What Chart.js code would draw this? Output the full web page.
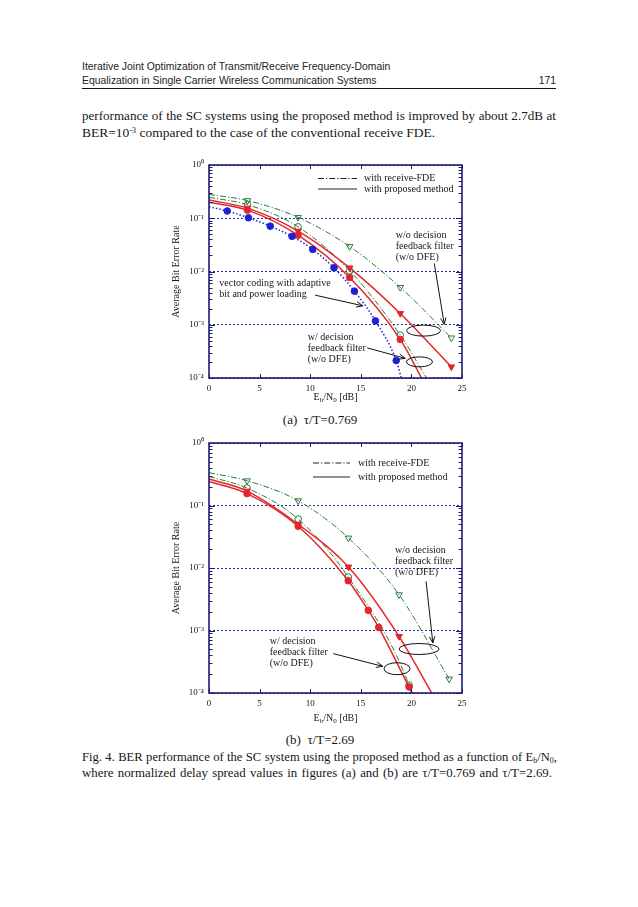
<!DOCTYPE html>
<html><head><meta charset="utf-8">
<script src="https://cdn.jsdelivr.net/npm/chart.js@4.4.1/dist/chart.umd.min.js"></script>
<style>
html,body{margin:0;padding:0;background:#fff;}
body{width:638px;height:907px;position:relative;overflow:hidden;font-family:"Liberation Serif","Times New Roman",serif;color:#161616;}
.abs{position:absolute;white-space:nowrap;}
.hdr{font-family:"Liberation Sans",Arial,sans-serif;font-size:10.4px;line-height:14px;color:#222;}
.txt{font-size:13.5px;line-height:17px;}
.cap{font-size:13px;line-height:16px;}
.jl{text-align:justify;text-align-last:justify;}
sup{font-size:8px;line-height:0;vertical-align:4px;}
sub{font-size:8px;line-height:0;vertical-align:-2px;}
canvas{position:absolute;}
</style></head><body>
<div class="abs hdr" style="left:82px;top:60px;">Iterative Joint Optimization of Transmit/Receive Frequency-Domain</div>
<div class="abs hdr" style="left:82px;top:74px;">Equalization in Single Carrier Wireless Communication Systems</div>
<div class="abs hdr" style="left:500px;top:74px;width:56px;text-align:right;">171</div>
<div class="abs" style="left:82px;top:88px;width:474px;height:1px;background:#111;"></div>
<div class="abs txt jl fit" style="left:82px;top:107px;width:474px;"><span>performance of the SC systems using the proposed method is improved by about 2.7dB at</span></div>
<div class="abs txt" style="left:82px;top:124px;">BER=10<sup>-3</sup> compared to the case of the conventional receive FDE.</div>

<canvas id="ca" width="330" height="262" style="left:150px;top:150px"></canvas>
<div class="abs cap" style="left:250px;top:412px;width:140px;text-align:center;">(a)&nbsp; τ/T=0.769</div>
<canvas id="cb" width="330" height="300" style="left:150px;top:430px"></canvas>
<div class="abs cap" style="left:250px;top:732px;width:140px;text-align:center;">(b)&nbsp; τ/T=2.69</div>
<div class="abs cap jl fit" style="left:82px;top:749px;width:475px;"><span>Fig. 4. BER performance of the SC system using the proposed method as a function of E<sub>b</sub>/N<sub>0</sub>,</span></div>
<div class="abs cap jl fit" style="left:82px;top:765px;width:470px;"><span>where normalized delay spread values in figures (a) and (b) are τ/T=0.769 and τ/T=2.69.</span></div>

<script>
// shrink justified lines whose natural width exceeds their box
document.querySelectorAll('.fit').forEach(d => {
  const W = parseFloat(d.style.width);
  const sp = d.firstElementChild;
  const fs = parseFloat(getComputedStyle(d).fontSize);
  const w = sp.getBoundingClientRect().width;
  if (w > W - 2) d.style.fontSize = (fs * (W - 4) / w).toFixed(2) + 'px';
});

// ---------------- axis ticks ----------------
const xTickValues = [0, 5, 10, 15, 20, 25];
const xTickLabels = ['0', '5', '10', '15', '20', '25'];
const yTickValues = [1e-4, 1e-3, 1e-2, 1e-1, 1];
const yTickLabels = ['10⁻⁴', '10⁻³', '10⁻²', '10⁻¹', '10⁰'];

// ---------------- (a) tau/T = 0.769 ----------------
const aMarkX      = [3.8, 8.8, 13.9, 18.9, 23.95];
const aFdeNoDfe   = [0.215, 0.104, 0.0295, 0.00502, 0.000567];   // green open triangles
const aFdeDfe     = [0.18, 0.069, 0.0103, 0.000638];             // green open circles
const aPropNoDfe  = [0.155, 0.0575, 0.0117, 0.00163, 0.000162];  // red filled triangles
const aPropDfe    = [0.142, 0.048, 0.0077, 0.00053];             // red filled circles
const aVcX        = [1.8, 3.9, 6.05, 8.2, 10.25, 12.35, 14.37, 16.45, 18.5];
const aVc         = [0.137, 0.102, 0.071, 0.0457, 0.026, 0.0117, 0.00428, 0.00118, 0.000213]; // blue
// curve value at Eb/N0 = 0 dB, order: fdeNoDfe, fdeDfe, propNoDfe, propDfe, vc
const aCurveStart = [0.281, 0.247, 0.22, 0.2, 0.164];
// Eb/N0 where curve leaves the plot at BER = 1e-4 (null = ends at last marker)
const aCurveEndX  = [null, 21.5, null, 21.0, 19.0];

// ---------------- (b) tau/T = 2.69 ----------------
const bMarkX      = [3.76, 8.81, 13.78, 18.78, 23.73];
const bFdeNoDfe   = [0.249, 0.119, 0.0302, 0.00374, 0.000168];
const bFdeDfeX    = [3.76, 8.81, 13.76, 19.77];
const bFdeDfe     = [0.19, 0.0608, 0.00718, 0.000134];
const bPropNoDfe  = [0.17, 0.05, 0.0104, 0.000805];
const bPropDfeX   = [3.76, 8.81, 13.76, 15.74, 16.77, 19.77];
const bPropDfe    = [0.155, 0.0465, 0.00626, 0.0021, 0.00112, 0.000125];
const bCurveStart = [0.335, 0.292, 0.265, 0.243];
const bCurveEndX  = [null, 20.0, 22.0, 20.1];

// ---------------- styles ----------------
const RED = '#e2262b', GREEN = '#2e7a3e', BLUE = '#2020d4', NAVY = '#1c1c72', GRID = '#2b2b96';
const SERIF = '"Liberation Serif","Times New Roman",serif';
const DASHDOT = [6, 2, 1.2, 2];

function pts(xs, ys) { return ys.map((y, i) => ({x: xs[i], y})); }
function curve(xs, ys, startY, endX) {
  const p = [{x: 0, y: startY}].concat(pts(xs, ys));
  if (endX != null) p.push({x: endX, y: 1e-4});
  return p;
}
function lineDs(data, color, dash, width) {
  return {data, borderColor: color, borderDash: dash, borderWidth: width, pointRadius: 0,
          fill: false, cubicInterpolationMode: 'monotone', showLine: true};
}
function markDs(data, color, style, filled, rot) {
  return {data, showLine: false, pointStyle: style, pointRadius: style === 'triangle' ? 3.8 : 3.3,
          pointRotation: rot || 0, borderColor: color, borderWidth: 1,
          pointBackgroundColor: filled ? color : 'rgba(255,255,255,0)', backgroundColor: color};
}

const framePlugin = {
  id: 'frame',
  afterDatasetsDraw(chart, args, o) {
    const {ctx, chartArea: a, scales: {x, y}} = chart;
    const L = (x1, y1, x2, y2) => { ctx.beginPath(); ctx.moveTo(x1, y1); ctx.lineTo(x2, y2); ctx.stroke(); };
    ctx.save();
    ctx.strokeStyle = NAVY; ctx.lineWidth = 1;
    for (let e = -4; e < 0; e++) for (let m = 1; m < 10; m++) {
      const py = Math.round(y.getPixelForValue(m * Math.pow(10, e))) + 0.5;
      const len = m === 1 ? 6 : 3.5;
      L(a.left, py, a.left + len, py); L(a.right, py, a.right - len, py);
    }
    xTickValues.forEach(v => {
      const px = Math.round(x.getPixelForValue(v)) + 0.5;
      L(px, a.bottom, px, a.bottom - 4); L(px, a.top, px, a.top + 4);
    });
    ctx.lineWidth = 1.6;
    ctx.strokeRect(a.left, a.top, a.right - a.left, a.bottom - a.top);

    // axis titles
    ctx.fillStyle = '#161616';
    ctx.font = '10px ' + SERIF;
    ctx.textBaseline = 'middle';
    ctx.save();
    ctx.translate(o.yTitleX, (a.top + a.bottom) / 2);
    ctx.rotate(-Math.PI / 2);
    ctx.textAlign = 'center';
    ctx.fillText('Average Bit Error Rate', 0, 0);
    ctx.restore();
    const parts = [['E', 10, 0], ['b', 7, 3], ['/N', 10, 0], ['0', 7, 3], [' [dB]', 10, 0]];
    let w = 0;
    parts.forEach(p => { ctx.font = p[1] + 'px ' + SERIF; w += ctx.measureText(p[0]).width; });
    let cx = (a.left + a.right) / 2 - w / 2;
    ctx.textAlign = 'left';
    parts.forEach(p => { ctx.font = p[1] + 'px ' + SERIF; ctx.fillText(p[0], cx, o.xTitleY + p[2]); cx += ctx.measureText(p[0]).width; });

    // legend
    ctx.strokeStyle = '#222'; ctx.lineWidth = 1.2;
    const lg = o.legend;
    ctx.setLineDash(DASHDOT);
    L(a.left + lg.x0, a.top + lg.y1, a.left + lg.x1, a.top + lg.y1);
    ctx.setLineDash([]);
    L(a.left + lg.x0, a.top + lg.y2, a.left + lg.x1, a.top + lg.y2);
    ctx.font = '10px ' + SERIF;
    ctx.fillText('with receive-FDE', a.left + lg.tx, a.top + lg.y1);
    ctx.fillText('with proposed method', a.left + lg.tx, a.top + lg.y2);

    // annotations (anchored in data coordinates)
    ctx.lineWidth = 1; ctx.strokeStyle = '#111';
    (o.texts || []).forEach(t => {
      const px = x.getPixelForValue(t.x), py = y.getPixelForValue(t.y);
      t.lines.forEach((s, i) => ctx.fillText(s, px, py + i * 11));
    });
    (o.arrows || []).forEach(r => {
      const x1 = x.getPixelForValue(r.from[0]), y1 = y.getPixelForValue(r.from[1]);
      const x2 = x.getPixelForValue(r.to[0]), y2 = y.getPixelForValue(r.to[1]);
      L(x1, y1, x2, y2);
      const ang = Math.atan2(y2 - y1, x2 - x1);
      [0.4, -0.4].forEach(d => L(x2, y2, x2 - 7 * Math.cos(ang + d), y2 - 7 * Math.sin(ang + d)));
    });
    (o.ellipses || []).forEach(el => {
      ctx.beginPath();
      ctx.ellipse(x.getPixelForValue(el.x), y.getPixelForValue(el.y), el.rx, el.ry, 0, 0, Math.PI * 2);
      ctx.stroke();
    });
    ctx.restore();
  }
};

function makeChart(id, datasets, pad, xH, frameOpts) {
  return new Chart(document.getElementById(id), {
    type: 'line',
    data: {datasets},
    options: {
      responsive: false, animation: false, devicePixelRatio: 1,
      layout: {padding: pad},
      plugins: {legend: {display: false}, tooltip: {enabled: false}, frame: frameOpts},
      scales: {
        x: {type: 'linear', min: 0, max: 25,
            afterBuildTicks: s => { s.ticks = xTickValues.map(v => ({value: v})); },
            afterFit: s => { s.height = xH; },
            ticks: {padding: 5, color: '#161616', font: {family: SERIF, size: 9},
                    callback: (v) => xTickLabels[xTickValues.indexOf(v)]},
            grid: {display: false, drawTicks: false}, border: {display: false}},
        y: {type: 'logarithmic', min: 1e-4, max: 1,
            afterBuildTicks: s => { s.ticks = yTickValues.map(v => ({value: v})); },
            afterFit: s => { s.width = 59; },
            ticks: {padding: 5, autoSkip: false, color: '#161616', font: {family: SERIF, size: 9},
                    callback: (v) => yTickLabels[yTickValues.findIndex(t => Math.abs(Math.log10(t) - Math.log10(v)) < 1e-6)]},
            grid: {display: true, drawTicks: false, color: GRID, lineWidth: 1},
            border: {display: false, dash: [2, 2]}}
      }
    },
    plugins: [framePlugin]
  });
}

// ---- chart (a)
makeChart('ca', [
  markDs(pts(aVcX, aVc), BLUE, 'circle', true),
  markDs(pts(aMarkX, aPropDfe), RED, 'circle', true),
  markDs(pts(aMarkX, aPropNoDfe), RED, 'triangle', true, 180),
  markDs(pts(aMarkX, aFdeDfe), GREEN, 'circle', false),
  markDs(pts(aMarkX, aFdeNoDfe), GREEN, 'triangle', false, 180),
  lineDs(curve(aVcX, aVc, aCurveStart[4], aCurveEndX[4]), BLUE, [1.5, 2], 1.5),
  lineDs(curve(aMarkX, aPropDfe, aCurveStart[3], aCurveEndX[3]), RED, [], 1.5),
  lineDs(curve(aMarkX, aPropNoDfe, aCurveStart[2], aCurveEndX[2]), RED, [], 1.5),
  lineDs(curve(aMarkX, aFdeDfe, aCurveStart[1], aCurveEndX[1]), GREEN, DASHDOT, 1),
  lineDs(curve(aMarkX, aFdeNoDfe, aCurveStart[0], aCurveEndX[0]), GREEN, DASHDOT, 1)
], {left: 0, right: 18, top: 15, bottom: 0}, 34, {
  yTitleX: 26, xTitleY: 247,
  legend: {x0: 109, x1: 148, tx: 155, y1: 13.5, y2: 24},
  texts: [
    {x: 18.45, y: 0.0468, lines: ['w/o decision', 'feedback filter', '(w/o DFE)']},
    {x: 1.02, y: 0.00597, lines: ['vector coding with adaptive', 'bit and power loading']},
    {x: 9.76, y: 0.000568, lines: ['w/ decision', 'feedback filter', '(w/o DFE)']}
  ],
  arrows: [
    {from: [22.26, 0.01419], to: [23.25, 0.00102]},
    {from: [10.48, 0.0036], to: [15.2, 0.00227]},
    {from: [15.63, 0.000368], to: [19.39, 0.000234]}
  ],
  ellipses: [
    {x: 21.2, y: 0.000776, rx: 17, ry: 5.5},
    {x: 20.8, y: 0.000201, rx: 13, ry: 5}
  ]
});

// ---- chart (b)
makeChart('cb', [
  markDs(pts(bPropDfeX, bPropDfe), RED, 'circle', true),
  markDs(pts(bMarkX, bPropNoDfe), RED, 'triangle', true, 180),
  markDs(pts(bFdeDfeX, bFdeDfe), GREEN, 'circle', false),
  markDs(pts(bMarkX, bFdeNoDfe), GREEN, 'triangle', false, 180),
  lineDs(curve(bPropDfeX, bPropDfe, bCurveStart[3], bCurveEndX[3]), RED, [], 1.5),
  lineDs(curve(bMarkX, bPropNoDfe, bCurveStart[2], bCurveEndX[2]), RED, [], 1.5),
  lineDs(curve(bFdeDfeX, bFdeDfe, bCurveStart[1], bCurveEndX[1]), GREEN, DASHDOT, 1),
  lineDs(curve(bMarkX, bFdeNoDfe, bCurveStart[0], bCurveEndX[0]), GREEN, DASHDOT, 1)
], {left: 0, right: 18, top: 13, bottom: 0}, 37, {
  yTitleX: 26, xTitleY: 288,
  legend: {x0: 104, x1: 141, tx: 149, y1: 20, y2: 34},
  texts: [
    {x: 18.38, y: 0.0189, lines: ['w/o decision', 'feedback filter', '(w/o DFE)']},
    {x: 6.0, y: 0.00067, lines: ['w/ decision', 'feedback filter', '(w/o DFE)']}
  ],
  arrows: [
    {from: [21.45, 0.00611], to: [22.12, 0.000631]},
    {from: [12.29, 0.000426], to: [17.17, 0.000267]}
  ],
  ellipses: [
    {x: 20.76, y: 0.000506, rx: 20, ry: 5.5},
    {x: 18.58, y: 0.000245, rx: 13, ry: 6}
  ]
});
</script>
</body></html>
